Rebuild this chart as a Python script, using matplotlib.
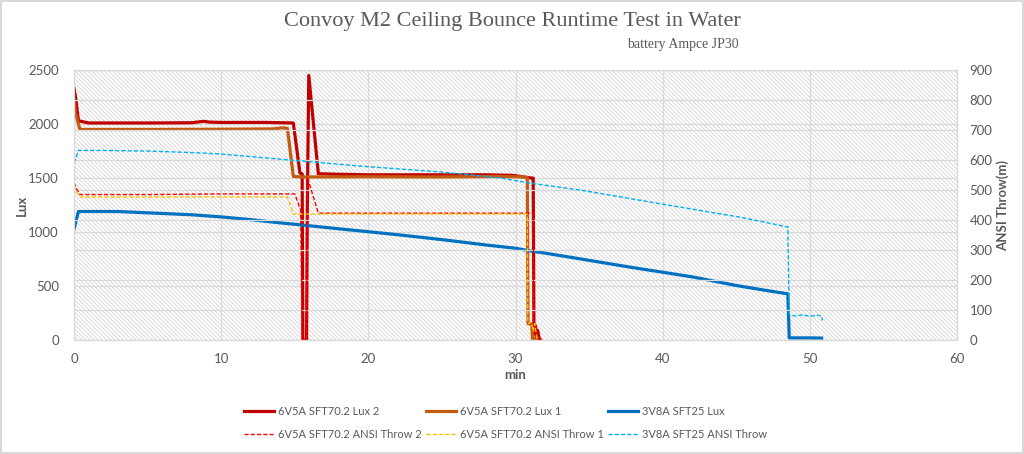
import matplotlib
matplotlib.use("Agg")
import matplotlib.pyplot as plt
from matplotlib.patches import Rectangle

# 6V5A SFT70.2 Lux 2
t_lux2 = [0, 0.1, 0.3, 1, 3, 5, 8, 8.8, 9.2, 10, 13, 14.9, 15.35, 15.5, 15.55, 15.8, 15.85, 15.95,
          16.6, 18, 20, 25, 28, 29.8, 31.1, 31.2, 31.25, 31.3, 31.35, 31.4, 31.5, 31.6, 31.7]
v_lux2 = [2330, 2250, 2030, 2010, 2010, 2010, 2012, 2025, 2018, 2015, 2015, 2010, 1546, 1540, 0, 0, 1200, 2450,
          1540, 1535, 1530, 1530, 1530, 1525, 1500, 1500, 120, 60, 130, 40, 90, 20, 0]

# 6V5A SFT70.2 Lux 1
t_lux1 = [0, 0.1, 0.4, 2, 5, 10, 13.5, 14.2, 14.5, 14.9, 15.5, 20, 25, 29, 30.5, 30.8, 30.85, 31.1, 31.15, 31.4, 31.45]
v_lux1 = [2220, 2100, 1950, 1950, 1950, 1952, 1955, 1965, 1960, 1515, 1510, 1512, 1510, 1515, 1510, 1505, 150, 150, 15, 15, 0]

# 3V8A SFT25 Lux
t_lux3 = [0, 0.3, 1, 3, 5, 8, 10, 12, 14, 15, 18, 20, 22, 25, 28, 30, 31, 32, 35, 38, 40, 42, 45, 47,
          48.5, 48.6, 50, 50.8]
v_lux3 = [1030, 1190, 1190, 1190, 1178, 1160, 1140, 1115, 1085, 1072, 1030, 1003, 975, 930, 880, 850, 825, 805, 738,
          670, 628, 585, 505, 460, 428, 20, 20, 18]

# 6V5A SFT70.2 ANSI Throw 2
t_thr2 = [0, 0.1, 0.4, 5, 10, 15.0, 15.4, 15.5, 15.8, 15.85, 16.6, 20, 25, 30, 31.2, 31.22, 31.3, 31.4, 31.5, 31.6]
v_thr2 = [525, 510, 485, 485, 487, 487, 433, 0, 0, 543, 423, 423, 423, 423, 423, 60, 30, 50, 20, 0]

# 6V5A SFT70.2 ANSI Throw 1
t_thr1 = [0, 0.1, 0.4, 5, 10, 14.5, 14.9, 20, 25, 30, 30.8, 30.83, 30.9, 31.0, 31.1, 31.2, 31.3, 31.4, 31.5]
v_thr1 = [515, 500, 477, 477, 477, 477, 420, 420, 420, 420, 420, 60, 55, 60, 50, 30, 55, 20, 0]

# 3V8A SFT25 ANSI Throw
t_thr3 = [0, 0.3, 2, 5, 8, 10, 14, 19.4, 25, 29, 31, 34.4, 40, 45.2, 48.5, 48.6, 49, 49.5, 50, 50.5, 50.8, 50.85]
v_thr3 = [590, 632, 632, 630, 625, 620, 603, 580, 560, 540, 523, 500, 453, 410, 377, 85, 80, 84, 79, 83, 80, 65]

grey = "#595959"
grid = "#d9d9d9"
plt.rcParams["font.family"] = ["Lato", "DejaVu Sans"]
plt.rcParams["hatch.linewidth"] = 0.5
plt.rcParams["hatch.color"] = "#cccccc"

fig = plt.figure(figsize=(10.24, 4.54), dpi=100)
fig.patch.set_edgecolor(grid)
fig.patch.set_linewidth(1.5)
ax = fig.add_axes([0.0723, 0.251, 0.8623, 0.5947])
ax2 = ax.twinx()

# hatched plot background
ax.add_patch(Rectangle((0, 0), 1, 1, transform=ax.transAxes, facecolor="white",
                       edgecolor="#cccccc", hatch="\\" * 8, linewidth=0, zorder=0))

l1, = ax.plot(t_lux2, v_lux2, color="#C00000", lw=2.3, label="6V5A SFT70.2 Lux 2")
l2, = ax.plot(t_lux1, v_lux1, color="#C55A11", lw=2.3, label="6V5A SFT70.2 Lux 1")
l3, = ax.plot(t_lux3, v_lux3, color="#0070C0", lw=2.3, label="3V8A SFT25 Lux")
d1, = ax2.plot(t_thr2, v_thr2, color="#FF0000", lw=1, ls=(0, (3, 1.5)), label="6V5A SFT70.2 ANSI Throw 2")
d2, = ax2.plot(t_thr1, v_thr1, color="#FFC000", lw=1, ls=(0, (3, 1.5)), label="6V5A SFT70.2 ANSI Throw 1")
d3, = ax2.plot(t_thr3, v_thr3, color="#00B0F0", lw=1, ls=(0, (3, 1.5)), label="3V8A SFT25 ANSI Throw")

ax.set_xlim(0, 60)
ax.set_ylim(0, 2500)
ax2.set_ylim(0, 900)
ax.set_xticks(range(0, 61, 10))
ax.set_yticks(range(0, 2501, 500))
ax2.set_yticks(range(0, 901, 100))

ax.grid(True, color=grid, lw=0.9)
ax.set_axisbelow(True)
ax2.grid(True, axis="y", color=grid, lw=0.9)
for a in (ax, ax2):
    for s in a.spines.values():
        s.set_color(grid)
    a.tick_params(length=0, labelsize=9.5, labelcolor=grey)
ax.tick_params(axis="y", pad=11)
ax2.tick_params(axis="y", pad=9)
ax.tick_params(axis="x", pad=9)

ax.set_xlabel("min", fontsize=9.5, fontweight="bold", color=grey, labelpad=3)
ax.set_ylabel("Lux", fontsize=9.5, fontweight="bold", color=grey, labelpad=0)
ax2.set_ylabel("ANSI Throw(m)", fontsize=9.5, fontweight="bold", color=grey, labelpad=3)

fig.text(0.5, 0.952, "Convoy M2 Ceiling Bounce Runtime Test in Water", ha="center", va="center",
         family="Liberation Serif", fontsize=16, color=grey)
fig.text(0.721, 0.903, "battery Ampce JP30", ha="right", va="center",
         family="Liberation Serif", fontsize=10, color=grey)

handles = [l1, d1, l2, d2, l3, d3]
leg = fig.legend(handles=handles, labels=[h.get_label() for h in handles], ncol=3,
                 loc="center", bbox_to_anchor=(0.494, 0.068), frameon=False, fontsize=8,
                 handlelength=2.7, handletextpad=0.35, columnspacing=0.4, labelspacing=1.05)
for txt in leg.get_texts():
    txt.set_color(grey)

fig.savefig("out.png", dpi=100)
